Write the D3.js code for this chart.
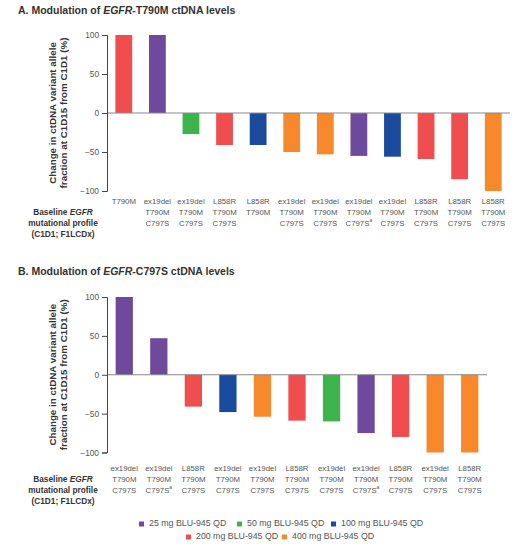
<!DOCTYPE html>
<html>
<head>
<meta charset="utf-8">
<script src="https://cdn.jsdelivr.net/npm/d3@7"></script>
<style>
  body { margin: 0; background: #fff; }
  svg { font-family: "Liberation Sans", Arial, sans-serif; }
</style>
</head>
<body>
<div id="viz"></div>
<script>
// Panel A: EGFR-T790M
const labelsA = [
  ["T790M"],
  ["ex19del", "T790M", "C797S"],
  ["ex19del", "T790M", "C797S"],
  ["L858R", "T790M", "C797S"],
  ["L858R", "T790M"],
  ["ex19del", "T790M", "C797S"],
  ["ex19del", "T790M", "C797S"],
  ["ex19del", "T790M", "C797S*"],
  ["ex19del", "T790M", "C797S"],
  ["L858R", "T790M", "C797S"],
  ["L858R", "T790M", "C797S"],
  ["L858R", "T790M", "C797S"]
];
const valuesA = [100, 100, -27, -41, -41, -50, -53, -55, -56, -59, -85, -100];
const dosesA = [200, 25, 50, 200, 100, 400, 400, 25, 100, 200, 200, 400];

// Panel B: EGFR-C797S
const labelsB = [
  ["ex19del", "T790M", "C797S"],
  ["ex19del", "T790M", "C797S*"],
  ["L858R", "T790M", "C797S"],
  ["ex19del", "T790M", "C797S"],
  ["ex19del", "T790M", "C797S"],
  ["L858R", "T790M", "C797S"],
  ["ex19del", "T790M", "C797S"],
  ["ex19del", "T790M", "C797S*"],
  ["L858R", "T790M", "C797S"],
  ["ex19del", "T790M", "C797S"],
  ["L858R", "T790M", "C797S"]
];
const valuesB = [100, 47, -41, -48, -54, -59, -60, -75, -80, -100, -100];
const dosesB = [25, 25, 200, 100, 400, 200, 50, 25, 200, 400, 400];

const yTicks = [100, 50, 0, -50, -100];
const doseLevels = [25, 50, 100, 200, 400];
const doseColors = ["#6f4a9c", "#3cb44b", "#1a4a9e", "#f04d4f", "#f7892c"];

const color = d3.scaleOrdinal().domain(doseLevels).range(doseColors);

const svg = d3.select("#viz").append("svg")
  .attr("width", 520)
  .attr("height", 546);

function drawPanel(opts) {
  const { title, titleItalic, titleRest, labels, values, doses, top, bottom, left, right } = opts;
  const g = svg.append("g");

  // title
  const t = g.append("text")
    .attr("x", 18)
    .attr("y", opts.titleY)
    .attr("font-size", "10.5px")
    .attr("font-weight", "bold")
    .attr("fill", "#333");
  t.append("tspan").text(title);
  t.append("tspan").attr("font-style", "italic").text(titleItalic);
  t.append("tspan").text(titleRest);

  const x = d3.scaleBand()
    .domain(d3.range(values.length))
    .range([left, right])
    .paddingInner(0.5)
    .paddingOuter(0.25);

  const y = d3.scaleLinear()
    .domain([-100, 100])
    .range([bottom, top]);

  // bars
  g.selectAll("rect.bar")
    .data(values)
    .enter().append("rect")
    .attr("class", "bar")
    .attr("x", (d, i) => x(i))
    .attr("width", x.bandwidth())
    .attr("y", d => y(Math.max(0, d)))
    .attr("height", d => Math.abs(y(d) - y(0)))
    .attr("fill", (d, i) => color(doses[i]));

  // zero line
  g.append("line")
    .attr("x1", left).attr("x2", right)
    .attr("y1", y(0)).attr("y2", y(0))
    .attr("stroke", "#888")
    .attr("stroke-width", 1);

  // y axis
  const yAxis = g.append("g")
    .attr("transform", `translate(${left},0)`)
    .call(d3.axisLeft(y).tickValues(yTicks).tickSize(5).tickPadding(3).tickFormat(d3.format("d")));
  yAxis.select(".domain").attr("stroke", "#444");
  yAxis.selectAll(".tick line").attr("stroke", "#444");
  yAxis.selectAll("text")
    .attr("font-size", "8.3px")
    .attr("fill", "#555")
    .attr("font-family", "Liberation Sans, Arial, sans-serif")
    .text(d => d < 0 ? "\u2212" + Math.abs(d) : d);

  // y title
  const cy = (top + bottom) / 2;
  const yt = g.append("text")
    .attr("transform", `translate(56,${cy}) rotate(-90)`)
    .attr("text-anchor", "middle")
    .attr("font-size", "9.8px")
    .attr("font-weight", "bold")
    .attr("fill", "#333");
  yt.append("tspan").attr("x", 0).attr("dy", 0).text("Change in ctDNA variant allele");
  yt.append("tspan").attr("x", 0).attr("dy", "11").text("fraction at C1D15 from C1D1 (%)");

  // category labels
  const rowY = opts.labelY;
  labels.forEach((lines, i) => {
    const cx = x(i) + x.bandwidth() / 2;
    lines.forEach((s, j) => {
      const tx = g.append("text")
        .attr("x", cx)
        .attr("y", rowY + j * 10.8)
        .attr("text-anchor", "middle")
        .attr("dominant-baseline", "middle")
        .attr("font-size", "7.8px")
        .attr("fill", "#555");
      if (s.endsWith("*")) {
        tx.append("tspan").text(s.slice(0, -1));
        tx.append("tspan").attr("font-size", "5px").attr("dy", "-3").text("a");
      } else {
        tx.text(s);
      }
    });
  });

  // baseline label
  const bl = ["Baseline ", "mutational profile", "(C1D1; F1LCDx)"];
  const b0 = g.append("text")
    .attr("x", 63).attr("y", rowY + 10.8)
    .attr("text-anchor", "middle").attr("dominant-baseline", "middle")
    .attr("font-size", "8.3px").attr("font-weight", "bold").attr("fill", "#333");
  b0.append("tspan").text(bl[0]);
  b0.append("tspan").attr("font-style", "italic").text("EGFR");
  g.append("text")
    .attr("x", 63).attr("y", rowY + 21.6)
    .attr("text-anchor", "middle").attr("dominant-baseline", "middle")
    .attr("font-size", "8.3px").attr("font-weight", "bold").attr("fill", "#333")
    .text(bl[1]);
  g.append("text")
    .attr("x", 63).attr("y", rowY + 32.4)
    .attr("text-anchor", "middle").attr("dominant-baseline", "middle")
    .attr("font-size", "8.3px").attr("font-weight", "bold").attr("fill", "#333")
    .text(bl[2]);
}

drawPanel({
  title: "A.  Modulation of ", titleItalic: "EGFR", titleRest: "-T790M ctDNA levels",
  titleY: 14,
  labels: labelsA, values: valuesA, doses: dosesA,
  top: 35, bottom: 191, left: 107, right: 510,
  labelY: 202
});

drawPanel({
  title: "B.  Modulation of ", titleItalic: "EGFR", titleRest: "-C797S ctDNA levels",
  titleY: 274.5,
  labels: labelsB, values: valuesB, doses: dosesB,
  top: 297, bottom: 452.5, left: 107, right: 487,
  labelY: 469
});

// legend
const legendRows = [
  { items: [0, 1, 2], x: [139, 237, 331], y: 524 },
  { items: [3, 4], x: [186, 282], y: 537 }
];
legendRows.forEach(row => {
  row.items.forEach((k, j) => {
    svg.append("rect")
      .attr("x", row.x[j]).attr("y", row.y - 2.5)
      .attr("width", 5).attr("height", 5)
      .attr("fill", doseColors[k]);
    svg.append("text")
      .attr("x", row.x[j] + 10).attr("y", row.y)
      .attr("dominant-baseline", "middle")
      .attr("font-size", "8.8px")
      .attr("fill", "#555")
      .text(`${doseLevels[k]} mg BLU-945 QD`);
  });
});
</script>
</body>
</html>
